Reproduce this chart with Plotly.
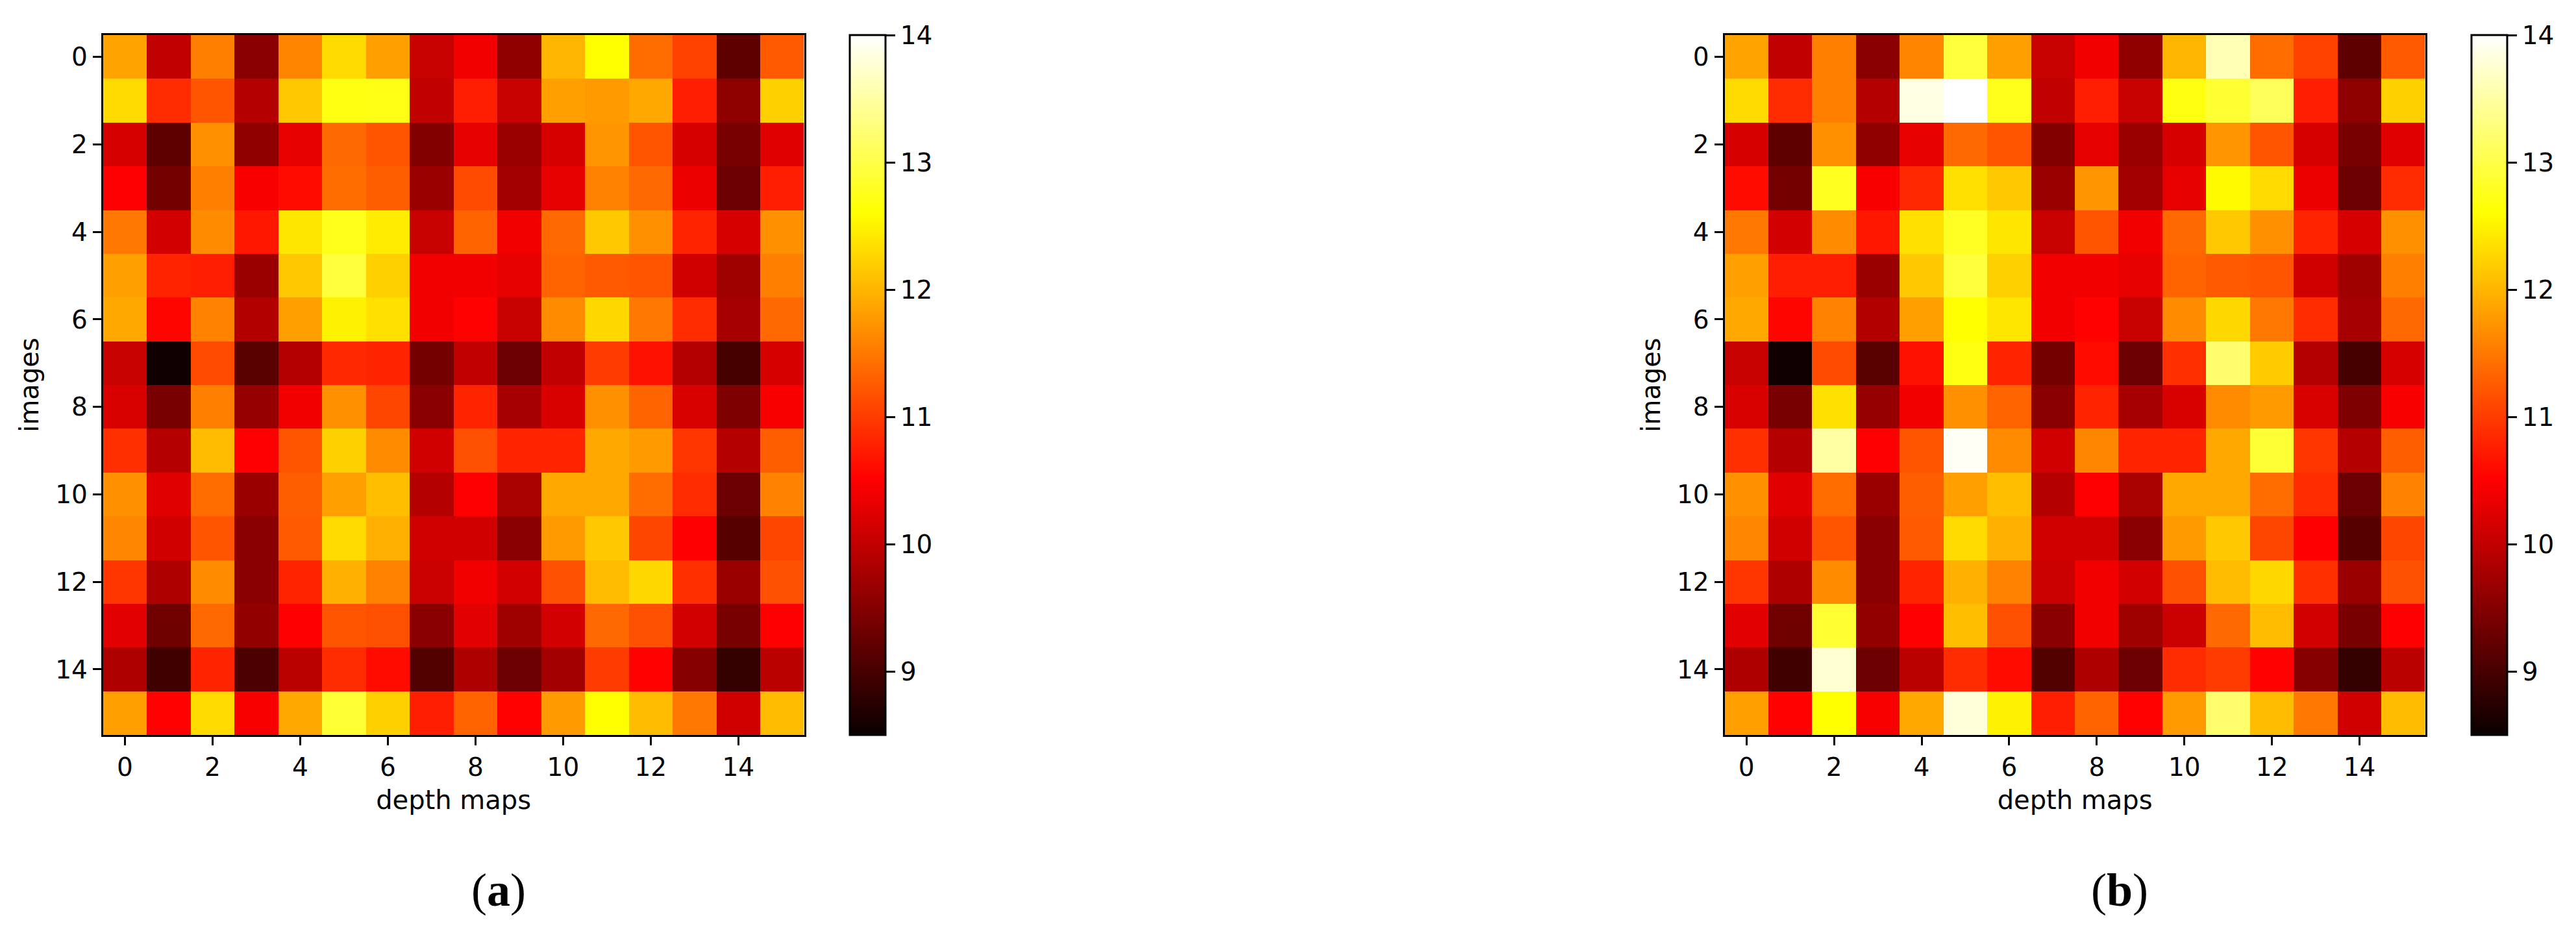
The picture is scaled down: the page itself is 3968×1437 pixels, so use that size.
import plotly.graph_objects as go

W, H = 3968, 1437

tick_values = [0, 2, 4, 6, 8, 10, 12, 14]
colorbar_ticks = [9, 10, 11, 12, 13, 14]
x_title = "depth maps"
y_title = "images"
panel_labels = ["(<b>a</b>)", "(<b>b</b>)"]

matrix_a = [
    [11.85,10.0,11.55,9.55,11.6,12.3,11.82,10.05,10.4,9.6,12.0,12.6,11.4,11.05,9.2,11.25],
    [12.3,10.87,11.2,9.9,12.15,12.7,12.72,10.0,10.75,10.05,11.82,11.78,11.9,10.75,9.58,12.22],
    [10.18,9.2,11.7,9.6,10.3,11.37,11.2,9.48,10.3,9.68,10.18,11.74,11.2,10.18,9.4,10.25],
    [10.5,9.38,11.55,10.45,10.6,11.4,11.28,9.68,11.12,9.75,10.3,11.58,11.37,10.35,9.3,10.75],
    [11.5,10.15,11.65,10.7,12.4,12.75,12.45,10.05,11.33,10.4,11.37,12.15,11.7,10.8,10.18,11.7],
    [11.82,10.8,10.75,9.68,12.15,12.93,12.22,10.4,10.4,10.3,11.33,11.25,11.2,10.12,9.72,11.55],
    [11.9,10.55,11.58,9.88,11.82,12.5,12.35,10.4,10.52,10.05,11.65,12.28,11.5,10.87,9.78,11.37],
    [10.05,8.55,11.12,9.15,9.9,10.84,10.8,9.38,10.0,9.3,10.0,11.0,10.65,9.9,9.0,10.18],
    [10.2,9.4,11.55,9.65,10.4,11.7,11.08,9.55,10.8,9.78,10.2,11.7,11.33,10.2,9.45,10.45],
    [10.9,9.9,12.05,10.5,11.2,12.22,11.65,10.12,11.16,10.8,10.8,11.9,11.78,10.95,9.9,11.28],
    [11.7,10.25,11.4,9.68,11.28,11.82,12.07,9.9,10.5,9.8,11.9,11.9,11.4,10.87,9.3,11.58],
    [11.62,10.12,11.2,9.55,11.25,12.3,11.95,10.12,10.12,9.55,11.78,12.15,11.08,10.5,9.12,11.08],
    [10.95,9.85,11.65,9.55,10.8,11.95,11.58,10.08,10.4,10.15,11.16,12.05,12.28,10.9,9.68,11.16],
    [10.28,9.32,11.37,9.62,10.5,11.2,11.16,9.55,10.28,9.72,10.15,11.37,11.16,10.15,9.4,10.5],
    [9.85,8.95,10.8,9.05,9.95,10.87,10.6,9.1,9.85,9.3,9.75,11.0,10.52,9.52,8.85,9.95],
    [11.82,10.52,12.3,10.45,11.9,12.9,12.22,10.75,11.33,10.52,11.78,12.6,12.05,11.5,10.12,12.05],
]

matrix_b = [
    [11.85,10.0,11.55,9.55,11.6,12.93,11.82,10.05,10.4,9.6,12.0,13.6,11.4,11.05,9.2,11.25],
    [12.3,10.87,11.55,9.9,13.85,14.0,12.75,10.0,10.75,10.05,12.7,12.88,13.1,10.75,9.58,12.22],
    [10.18,9.2,11.7,9.6,10.3,11.37,11.2,9.48,10.3,9.68,10.18,11.74,11.2,10.18,9.4,10.25],
    [10.6,9.38,12.78,10.45,10.84,12.35,12.15,9.68,11.74,9.75,10.3,12.55,12.3,10.35,9.3,10.87],
    [11.5,10.15,11.65,10.7,12.35,12.8,12.4,10.05,11.2,10.4,11.37,12.15,11.7,10.8,10.18,11.7],
    [11.82,10.75,10.75,9.68,12.15,12.93,12.22,10.4,10.4,10.3,11.33,11.25,11.2,10.12,9.72,11.55],
    [11.9,10.55,11.58,9.88,11.82,12.6,12.4,10.4,10.52,10.05,11.65,12.28,11.5,10.87,9.78,11.37],
    [10.05,8.55,11.12,9.15,10.65,12.7,10.8,9.38,10.6,9.3,10.9,13.2,12.18,9.9,9.0,10.18],
    [10.2,9.4,12.35,9.65,10.4,11.7,11.33,9.55,10.8,9.78,10.2,11.65,11.78,10.2,9.45,10.45],
    [10.9,9.9,13.5,10.5,11.2,13.95,11.65,10.12,11.62,10.8,10.8,11.9,12.9,10.95,9.9,11.28],
    [11.7,10.25,11.4,9.68,11.28,11.82,12.07,9.9,10.5,9.8,11.9,11.9,11.4,10.87,9.3,11.58],
    [11.62,10.12,11.2,9.55,11.25,12.3,11.95,10.12,10.12,9.55,11.78,12.15,11.08,10.5,9.12,11.08],
    [10.95,9.85,11.65,9.55,10.8,11.95,11.58,10.08,10.4,10.15,11.16,12.05,12.28,10.9,9.68,11.16],
    [10.28,9.32,12.88,9.62,10.5,12.07,11.16,9.55,10.4,9.72,10.08,11.37,12.05,10.15,9.4,10.5],
    [9.85,8.95,13.75,9.3,9.95,10.87,10.6,9.1,9.85,9.3,10.87,11.0,10.52,9.52,8.85,9.95],
    [11.82,10.52,12.6,10.45,11.9,13.8,12.5,10.75,11.33,10.52,11.78,13.2,12.05,11.5,10.12,12.05],
]

hot = [
    [0.0, "rgb(10,0,0)"],
    [0.365, "rgb(255,0,0)"],
    [0.746, "rgb(255,255,0)"],
    [1.0, "rgb(255,255,255)"],
]

FONT = "DejaVu Sans"
FS = 39
top, bottom = 54, 1132
panels = [
    dict(z=matrix_a, x0=158.7, x1=1238.6, cb=1309, lab=768),
    dict(z=matrix_b, x0=2656.5, x1=3735.7, cb=3807, lab=3265),
]

fig = go.Figure()
layout = dict(
    width=W, height=H, autosize=False,
    margin=dict(l=0, r=0, t=0, b=0),
    paper_bgcolor="white", plot_bgcolor="white",
    font=dict(family=FONT, size=FS, color="black"),
    annotations=[],
)

for i, p in enumerate(panels):
    n = "" if i == 0 else "2"
    fig.add_trace(go.Heatmap(
        z=p["z"], zmin=8.5, zmax=14, colorscale=hot, zsmooth=False,
        xaxis=f"x{n}", yaxis=f"y{n}",
        colorbar=dict(
            x=p["cb"] / W, xanchor="left", xpad=0, ypad=0,
            y=1 - top / H, yanchor="top", len=(bottom - top) / H, lenmode="fraction",
            thickness=55, thicknessmode="pixels",
            outlinewidth=3, outlinecolor="black",
            ticks="outside", ticklen=14, tickwidth=3, tickcolor="black",
            tickmode="array", tickvals=colorbar_ticks,
            ticktext=[str(t) for t in colorbar_ticks],
            tickfont=dict(family=FONT, size=FS, color="black"),
        ),
    ))
    axis = dict(
        tickmode="array", tickvals=tick_values,
        ticktext=[str(t) for t in tick_values],
        ticks="outside", ticklen=13, tickwidth=3, tickcolor="black",
        showline=True, linewidth=3, linecolor="black", mirror=True,
        showgrid=False, zeroline=False,
        tickfont=dict(family=FONT, size=FS, color="black"),
    )
    layout[f"xaxis{n}"] = dict(
        axis, domain=[p["x0"] / W, p["x1"] / W], range=[-0.5, 15.5],
        anchor=f"y{n}", title=dict(text=x_title, standoff=16, font=dict(family=FONT, size=40)),
    )
    layout[f"yaxis{n}"] = dict(
        axis, domain=[1 - bottom / H, 1 - top / H], range=[15.5, -0.5],
        anchor=f"x{n}", title=dict(text=y_title, standoff=14, font=dict(family=FONT, size=40)),
    )
    layout["annotations"].append(dict(
        text=panel_labels[i], xref="paper", yref="paper",
        x=p["lab"] / W, y=1 - 1371 / H, xanchor="center", yanchor="middle",
        showarrow=False, font=dict(family="Liberation Serif", size=72, color="black"),
    ))

fig.update_layout(**layout)
fig.write_html("out.html", config={"displayModeBar": False},
               post_script="document.body.style.margin='0';")
